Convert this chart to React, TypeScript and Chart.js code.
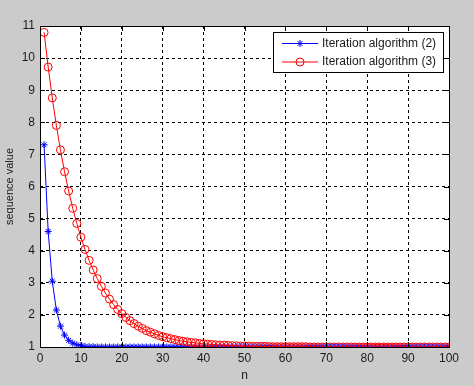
import React, { useEffect, useRef } from "react";
import { Chart, registerables } from "chart.js";

Chart.register(...registerables);

const nValues = [
  1, 2, 3, 4, 5, 6, 7, 8, 9, 10, 11, 12, 13, 14, 15, 16, 17, 18, 19, 20,
  21, 22, 23, 24, 25, 26, 27, 28, 29, 30, 31, 32, 33, 34, 35, 36, 37, 38, 39, 40,
  41, 42, 43, 44, 45, 46, 47, 48, 49, 50, 51, 52, 53, 54, 55, 56, 57, 58, 59, 60,
  61, 62, 63, 64, 65, 66, 67, 68, 69, 70, 71, 72, 73, 74, 75, 76, 77, 78, 79, 80,
  81, 82, 83, 84, 85, 86, 87, 88, 89, 90, 91, 92, 93, 94, 95, 96, 97, 98, 99, 100,
];

const algo2Values = [
  7.3, 4.6, 3.05, 2.15, 1.65, 1.37, 1.21, 1.12, 1.07, 1.04, 1.02, 1.01, 1.01, 1.0, 1.0, 1.0, 1.0, 1.0, 1.0, 1.0,
  1.0, 1.0, 1.0, 1.0, 1.0, 1.0, 1.0, 1.0, 1.0, 1.0, 1.0, 1.0, 1.0, 1.0, 1.0, 1.0, 1.0, 1.0, 1.0, 1.0,
  1.0, 1.0, 1.0, 1.0, 1.0, 1.0, 1.0, 1.0, 1.0, 1.0, 1.0, 1.0, 1.0, 1.0, 1.0, 1.0, 1.0, 1.0, 1.0, 1.0,
  1.0, 1.0, 1.0, 1.0, 1.0, 1.0, 1.0, 1.0, 1.0, 1.0, 1.0, 1.0, 1.0, 1.0, 1.0, 1.0, 1.0, 1.0, 1.0, 1.0,
  1.0, 1.0, 1.0, 1.0, 1.0, 1.0, 1.0, 1.0, 1.0, 1.0, 1.0, 1.0, 1.0, 1.0, 1.0, 1.0, 1.0, 1.0, 1.0, 1.0,
];

const algo3Values = [
  10.8, 9.72, 8.76, 7.9, 7.14, 6.46, 5.86, 5.32, 4.85, 4.42, 4.04, 3.7, 3.4, 3.13, 2.89, 2.68, 2.49, 2.32, 2.17, 2.04,
  1.92, 1.82, 1.73, 1.65, 1.58, 1.51, 1.46, 1.41, 1.36, 1.32, 1.29, 1.26, 1.23, 1.2, 1.18, 1.16, 1.14, 1.13, 1.11, 1.1,
  1.09, 1.08, 1.07, 1.06, 1.06, 1.05, 1.04, 1.04, 1.03, 1.03, 1.03, 1.02, 1.02, 1.02, 1.02, 1.01, 1.01, 1.01, 1.01, 1.01,
  1.01, 1.01, 1.01, 1.01, 1.01, 1.0, 1.0, 1.0, 1.0, 1.0, 1.0, 1.0, 1.0, 1.0, 1.0, 1.0, 1.0, 1.0, 1.0, 1.0,
  1.0, 1.0, 1.0, 1.0, 1.0, 1.0, 1.0, 1.0, 1.0, 1.0, 1.0, 1.0, 1.0, 1.0, 1.0, 1.0, 1.0, 1.0, 1.0, 1.0,
];

const seriesLabels = ["Iteration algorithm (2)", "Iteration algorithm (3)"];
const xTicks = [0, 10, 20, 30, 40, 50, 60, 70, 80, 90, 100];
const yTicks = [1, 2, 3, 4, 5, 6, 7, 8, 9, 10, 11];

const FONT = "Arial, 'Liberation Sans', sans-serif";
const BG = "#cbcbcb";
const TEXT = "#1a1a1a";

function drawMarker(ctx: CanvasRenderingContext2D, style: string, r: number, x: number, y: number) {
  ctx.beginPath();
  if (style === "circle") {
    ctx.arc(x, y, r, 0, Math.PI * 2);
  } else {
    ctx.moveTo(x - r, y);
    ctx.lineTo(x + r, y);
    ctx.moveTo(x, y - r);
    ctx.lineTo(x, y + r);
    const d = r * Math.SQRT1_2;
    ctx.moveTo(x - d, y - d);
    ctx.lineTo(x + d, y + d);
    ctx.moveTo(x - d, y + d);
    ctx.lineTo(x + d, y - d);
  }
  ctx.stroke();
}

const boxPlugin = {
  id: "boxPlugin",
  afterDatasetsDraw(chart: any) {
    const { ctx, chartArea: a, scales } = chart;
    ctx.save();
    ctx.strokeStyle = "#000";
    ctx.lineWidth = 1;
    ctx.setLineDash([]);
    ctx.strokeRect(Math.round(a.left) + 0.5, Math.round(a.top) + 0.5, Math.round(a.right - a.left), Math.round(a.bottom - a.top));
    const tl = 5;
    ctx.beginPath();
    for (const v of xTicks) {
      const x = Math.round(scales.x.getPixelForValue(v)) + 0.5;
      ctx.moveTo(x, a.bottom);
      ctx.lineTo(x, a.bottom - tl);
      ctx.moveTo(x, a.top);
      ctx.lineTo(x, a.top + tl);
    }
    for (const v of yTicks) {
      const y = Math.round(scales.y.getPixelForValue(v)) + 0.5;
      ctx.moveTo(a.left, y);
      ctx.lineTo(a.left + tl, y);
      ctx.moveTo(a.right, y);
      ctx.lineTo(a.right - tl, y);
    }
    ctx.stroke();
    ctx.restore();
  },
  afterDraw(chart: any) {
    const { ctx } = chart;
    const bx = 273, by = 32, bw = 170, bh = 40;
    ctx.save();
    ctx.fillStyle = "#fff";
    ctx.fillRect(bx, by, bw, bh);
    ctx.strokeStyle = "#000";
    ctx.lineWidth = 1;
    ctx.strokeRect(bx + 0.5, by + 0.5, bw, bh);
    const rows = [43.5, 62];
    chart.data.datasets.forEach((ds: any, i: number) => {
      const y = rows[i];
      ctx.strokeStyle = ds.borderColor;
      ctx.lineWidth = 1;
      ctx.beginPath();
      ctx.moveTo(282, y);
      ctx.lineTo(318, y);
      ctx.stroke();
      drawMarker(ctx, ds.pointStyle, ds.pointRadius, 300, y);
      ctx.fillStyle = TEXT;
      ctx.font = `12px ${FONT}`;
      ctx.textBaseline = "middle";
      ctx.textAlign = "left";
      ctx.fillText(ds.label, 322, y);
    });
    ctx.restore();
  },
};

export default function App() {
  const ref = useRef<HTMLCanvasElement>(null);
  useEffect(() => {
    document.body.style.margin = "0";
    const canvas = ref.current!;
    const chart = new Chart(canvas, {
      type: "line",
      data: {
        datasets: [
          {
            label: seriesLabels[0],
            data: nValues.map((n, i) => ({ x: n, y: algo2Values[i] })),
            borderColor: "#0000ff",
            backgroundColor: "#0000ff",
            borderWidth: 1,
            pointStyle: "star",
            pointRadius: 3.5,
            pointBorderWidth: 1,
            pointBorderColor: "#0000ff",
            pointBackgroundColor: "transparent",
            order: 1,
          },
          {
            label: seriesLabels[1],
            data: nValues.map((n, i) => ({ x: n, y: algo3Values[i] })),
            borderColor: "#ff0000",
            backgroundColor: "#ff0000",
            borderWidth: 1,
            pointStyle: "circle",
            pointRadius: 4,
            pointBorderWidth: 1,
            pointBorderColor: "#ff0000",
            pointBackgroundColor: "transparent",
            order: 0,
          },
        ],
      },
      options: {
        animation: false,
        responsive: false,
        devicePixelRatio: 1,
        layout: { padding: { left: 0, top: 26, right: 25, bottom: 0 } },
        plugins: { legend: { display: false }, tooltip: { enabled: false } },
        scales: {
          x: {
            type: "linear",
            min: 0,
            max: 100,
            afterBuildTicks: (s: any) => { s.ticks = xTicks.map((v) => ({ value: v })); },
            afterFit: (s: any) => { s.height = 39; },
            grid: { color: "#000", lineWidth: 1, drawTicks: false },
            border: { display: false, dash: [3, 3] },
            ticks: { color: TEXT, font: { family: FONT, size: 12 }, padding: 4, maxRotation: 0, autoSkip: false },
            title: { display: true, text: "n", color: TEXT, font: { family: FONT, size: 12 }, padding: { top: 0, bottom: 3 } },
          },
          y: {
            type: "linear",
            min: 1,
            max: 11,
            afterBuildTicks: (s: any) => { s.ticks = yTicks.map((v) => ({ value: v })); },
            afterFit: (s: any) => { s.width = 40; },
            grid: { color: "#000", lineWidth: 1, drawTicks: false },
            border: { display: false, dash: [3, 3] },
            ticks: { color: TEXT, font: { family: FONT, size: 12 }, padding: 5, autoSkip: false },
            title: { display: true, text: "sequence value", color: TEXT, font: { family: FONT, size: 11 }, padding: { top: 3, bottom: 0 } },
          },
        },
      },
      plugins: [
        {
          id: "plotBg",
          beforeDraw(chart: any) {
            const { ctx, chartArea: a } = chart;
            ctx.save();
            ctx.fillStyle = "#fff";
            ctx.fillRect(a.left, a.top, a.right - a.left, a.bottom - a.top);
            ctx.restore();
          },
        },
        boxPlugin,
      ],
    } as any);
    return () => chart.destroy();
  }, []);
  return (
    <div style={{ width: 474, height: 386, background: BG, position: "relative" }}>
      <canvas ref={ref} width={474} height={386} style={{ display: "block" }} />
    </div>
  );
}
